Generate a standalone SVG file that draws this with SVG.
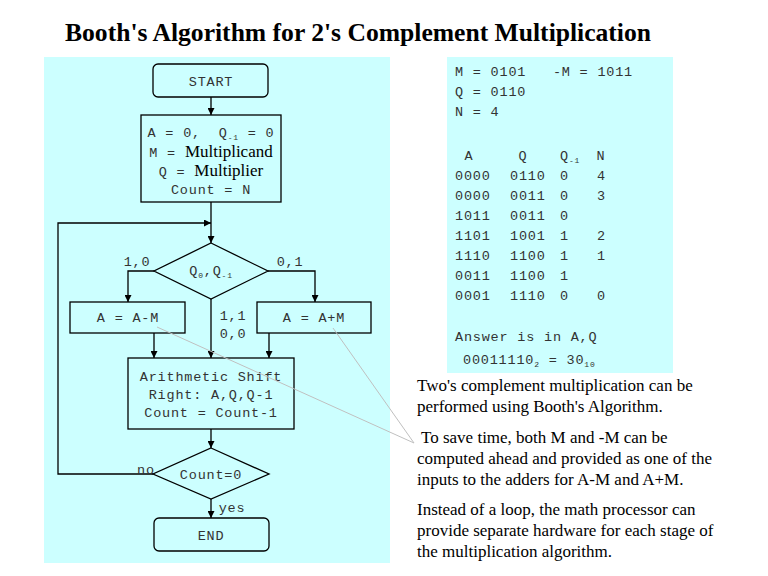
<svg xmlns="http://www.w3.org/2000/svg" width="768" height="576" viewBox="0 0 768 576">
<defs>
<marker id="ah" viewBox="0 0 10 10" refX="10" refY="5" markerWidth="7" markerHeight="7" orient="auto" markerUnits="userSpaceOnUse"><path d="M0,0 L10,5 L0,10 z" fill="#000"/></marker>
</defs>
<style>
.m{font-family:"Liberation Mono","Courier New",monospace;font-size:13.5px;letter-spacing:0.8px;fill:#333}
.s{font-family:"Liberation Serif","Times New Roman",serif;font-size:17px;fill:#000}
.sub{font-size:8px}
.box{fill:#ccffff;stroke:#000;stroke-width:1.3}
.ln{fill:none;stroke:#000;stroke-width:1.3}
.c{text-anchor:middle}
</style>
<rect width="768" height="576" fill="#fff"/>
<text x="358" y="41" class="c" font-family="Liberation Serif,serif" font-weight="bold" font-size="25.6">Booth's Algorithm for 2's Complement Multiplication</text>
<rect x="44" y="57" width="346" height="506" fill="#ccffff"/>
<rect x="447" y="57" width="226" height="316" fill="#ccffff"/>

<g id="connectors">
<line class="ln" x1="211" y1="97" x2="211" y2="115" marker-end="url(#ah)"/>
<line class="ln" x1="211" y1="202" x2="211" y2="243" marker-end="url(#ah)"/>
<polyline class="ln" points="153,474 58,474 58,223 211,223" marker-end="url(#ah)"/>
<polyline class="ln" points="154,271 128,271 128,302" marker-end="url(#ah)"/>
<polyline class="ln" points="268,271 315,271 315,302" marker-end="url(#ah)"/>
<line class="ln" x1="211" y1="299" x2="211" y2="358" marker-end="url(#ah)"/>
<line class="ln" x1="154" y1="333" x2="154" y2="358" marker-end="url(#ah)"/>
<line class="ln" x1="269" y1="333" x2="269" y2="358" marker-end="url(#ah)"/>
<line class="ln" x1="211" y1="429" x2="211" y2="448" marker-end="url(#ah)"/>
<line class="ln" x1="211" y1="499" x2="211" y2="518" marker-end="url(#ah)"/>
<text x="137" y="266" class="m c">1,0</text>
<text x="290" y="266" class="m c">0,1</text>
<text x="233" y="320" class="m c">1,1</text>
<text x="233" y="338" class="m c">0,0</text>
<text x="146" y="474" class="m c">no</text>
<text x="232" y="512" class="m c">yes</text>
</g>

<g id="start">
<rect class="box" x="153" y="64" width="115" height="33" rx="5"/>
<text x="211" y="86" class="m c">START</text>
</g>
<g id="init">
<rect class="box" x="141" y="115" width="140" height="87"/>
<text x="211" y="137" class="m c" xml:space="preserve">A = 0,  Q<tspan class="sub" dy="3">-1</tspan><tspan dy="-3"> = 0</tspan></text>
<text x="211" y="157" class="c"><tspan class="m">M = </tspan><tspan class="s">Multiplicand</tspan></text>
<text x="211" y="176" class="c"><tspan class="m">Q = </tspan><tspan class="s">Multiplier</tspan></text>
<text x="211" y="194" class="m c">Count = N</text>
</g>
<g id="decision1">
<polygon class="box" points="211,243 268,271 211,299 154,271"/>
<text x="211" y="275" class="m c">Q<tspan class="sub" dy="3">0</tspan><tspan dy="-3">,Q</tspan><tspan class="sub" dy="3">-1</tspan></text>
</g>
<g id="sub">
<rect class="box" x="70" y="302" width="115" height="31"/>
<text x="128" y="322" class="m c">A = A-M</text>
</g>
<g id="add">
<rect class="box" x="257" y="302" width="114" height="31"/>
<text x="314" y="322" class="m c">A = A+M</text>
</g>
<g id="shift">
<rect class="box" x="128" y="358" width="166" height="71"/>
<text x="211" y="381" class="m c">Arithmetic Shift</text>
<text x="211" y="399" class="m c">Right: A,Q,Q-1</text>
<text x="211" y="417" class="m c">Count = Count-1</text>
</g>
<g id="decision2">
<polygon class="box" points="211,448 269,474 211,499 153,474"/>
<text x="211" y="479" class="m c">Count=0</text>
</g>
<g id="end">
<rect class="box" x="154" y="518" width="115" height="33" rx="5"/>
<text x="211" y="540" class="m c">END</text>
</g>

<g id="example">
<text x="455" y="76" class="m" xml:space="preserve">M = 0101   -M = 1011</text>
<text x="455" y="96" class="m">Q = 0110</text>
<text x="455" y="116" class="m">N = 4</text>
<text x="469" y="160" class="m c">A</text>
<text x="523" y="160" class="m c">Q</text>
<text x="560" y="160" class="m">Q<tspan class="sub" dy="3">-1</tspan></text>
<text x="601" y="160" class="m c">N</text>
<g class="m">
<text x="455" y="180">0000</text><text x="510" y="180">0110</text><text x="560" y="180">0</text><text x="597" y="180">4</text>
<text x="455" y="200">0000</text><text x="510" y="200">0011</text><text x="560" y="200">0</text><text x="597" y="200">3</text>
<text x="455" y="220">1011</text><text x="510" y="220">0011</text><text x="560" y="220">0</text>
<text x="455" y="240">1101</text><text x="510" y="240">1001</text><text x="560" y="240">1</text><text x="597" y="240">2</text>
<text x="455" y="260">1110</text><text x="510" y="260">1100</text><text x="560" y="260">1</text><text x="597" y="260">1</text>
<text x="455" y="280">0011</text><text x="510" y="280">1100</text><text x="560" y="280">1</text>
<text x="455" y="300">0001</text><text x="510" y="300">1110</text><text x="560" y="300">0</text><text x="597" y="300">0</text>
</g>
<text x="455" y="341" class="m">Answer is in A,Q</text>
<text x="463" y="364" class="m">00011110<tspan class="sub" dy="3">2</tspan><tspan dy="-3"> = 30</tspan><tspan class="sub" dy="3">10</tspan></text>
</g>

<g id="callouts">
<line x1="157" y1="327" x2="414" y2="443" stroke="#c0c0c0" stroke-width="1"/>
<line x1="333" y1="328" x2="414" y2="443" stroke="#c0c0c0" stroke-width="1"/>
</g>

<g id="notes" class="s">
<text x="417" y="391">Two's complement multiplication can be</text>
<text x="417" y="412">performed using Booth's Algorithm.</text>
<text x="421" y="443">To save time, both M and -M can be</text>
<text x="417" y="464">computed ahead and provided as one of the</text>
<text x="417" y="485">inputs to the adders for A-M and A+M.</text>
<text x="417" y="515">Instead of a loop, the math processor can</text>
<text x="417" y="536">provide separate hardware for each stage of</text>
<text x="417" y="557">the multiplication algorithm.</text>
</g>
</svg>
